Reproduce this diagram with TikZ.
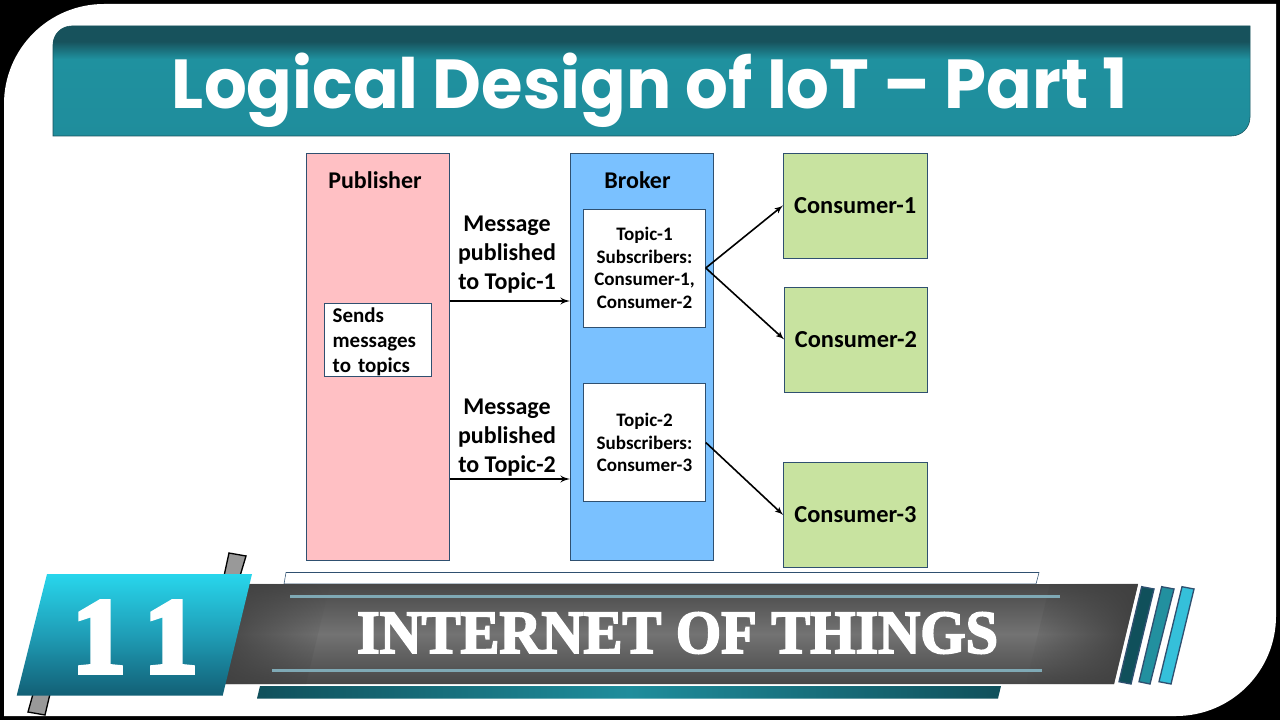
\documentclass[tikz,border=0pt]{standalone}
\usepackage{fontspec}
\setmainfont{Carlito}
\newfontfamily\titlefont{Poppins}
\newfontfamily\bannerfont[BoldFeatures={FakeBold=3}]{Liberation Serif}
\newfontfamily\numberfont[BoldFeatures={FakeBold=5}]{Liberation Serif}
\usepackage{tikz}
\usetikzlibrary{positioning,arrows,calc,fadings}
\definecolor{pubpink}{HTML}{FFC0C4}
\definecolor{brokerblue}{HTML}{7AC1FF}
\definecolor{consgreen}{HTML}{C8E3A0}
\definecolor{edgeblue}{HTML}{2F5070}
\definecolor{barteal}{HTML}{1F8D9C}
\definecolor{barlight}{HTML}{1F919F}
\definecolor{bardark}{HTML}{17525C}
\definecolor{cyantop}{HTML}{28D6EC}
\definecolor{cyanmid}{HTML}{1F9DB6}
\definecolor{cyanlow}{HTML}{125F75}
\definecolor{ruleblue}{HTML}{7FA9B5}
\definecolor{stripelight}{HTML}{35C0DA}
\definecolor{stripemid}{HTML}{22909F}
\definecolor{stripedark}{HTML}{10505B}
\pgfdeclareverticalshading{titlebar}{100bp}{color(0bp)=(barteal); color(25bp)=(barteal);
    color(60bp)=(barlight); color(68bp)=(bardark); color(100bp)=(bardark)}
\tikzset{
    line width=0.75pt,
    >=latex',
    panel/.style = {
        draw=edgeblue,
        shape=rectangle,
        minimum width=107.5pt,
        minimum height=305.25pt
    },
    topic/.style = {
        draw=edgeblue,
        fill=white,
        shape=rectangle,
        align=center,
        minimum width=91.5pt,
        minimum height=88.5pt,
        font=\bfseries\fontsize{14.3}{16.9}\selectfont
    },
    consumer/.style = {
        draw=edgeblue,
        fill=consgreen,
        shape=rectangle,
        minimum width=108pt,
        minimum height=79pt,
        font=\bfseries\fontsize{18.3}{20}\selectfont
    },
    caption/.style = {
        align=center,
        font=\bfseries\fontsize{18}{21.75}\selectfont
    },
    heading/.style = {
        font=\bfseries\fontsize{18}{20}\selectfont
    },
    stripe/.style = {
        draw=edgeblue,
        line width=1pt
    },
    tab/.style = {
        draw=black,
        fill=black!40,
        line width=1pt
    },
    flow/.style = {
        draw,
        ->,
        line width=1.5pt
    },
    link/.style = {
        draw,
        ->,
        line width=1.2pt
    }
}

\begin{document}
\begin{tikzpicture}[x=0.75pt,y=-0.75pt]
            \useasboundingbox (0,0) rectangle (1280,720);
            \path[fill=black] (0,0) rectangle (1280,720);
            \path[fill=white] (4,716) [rounded corners=75pt] -- (4,4) [sharp corners] -- (1276,4) [rounded corners=75pt] -- (1276,716) [sharp corners] -- cycle;

            \path[shading=titlebar, draw=bardark] (53,136) [rounded corners=14pt] -- (53,26) [sharp corners] -- (1250,26) [rounded corners=14pt] -- (1250,136) [sharp corners] -- cycle;
            \node[text=white] (title) at (650,90) {\titlefont\bfseries\fontsize{52}{60}\selectfont\scalebox{0.97}[1]{Logical Design of IoT – Part 1}};

            \node[panel, fill=pubpink] (pub) at (378,356.5) {};
            \node[panel, fill=brokerblue] (broker) at (642,356.5) {};
            \node[heading] (publabel) at (375,180) {Publisher};
            \node[heading] (brokerlabel) at (637.5,180) {Broker};
            \node[draw=edgeblue, fill=white, minimum width=80.25pt, minimum height=54pt, align=left, inner xsep=6pt, inner ysep=0pt, text width=68pt, font=\bfseries\fontsize{15.75}{18.75}\selectfont] (sends) at (378,339.5) {\rule{0pt}{14.5pt}Sends\\messages\\to topics};
            \node[topic] (topicone) at (644.5,268) {Topic-1\\Subscribers:\\Consumer-1,\\Consumer-2};
            \node[topic] (topictwo) at (644.5,442.5) {Topic-2\\Subscribers:\\Consumer-3};
            \node[consumer] (consone) at (855.25,205.5) {Consumer-1};
            \node[consumer, minimum width=107.25pt] (constwo) at (856,339.5) {Consumer-2};
            \node[consumer] (consthree) at (855.5,515) {Consumer-3};
            \node[caption] (msgone) at (507,255) {Message\\published\\to Topic-1};
            \node[caption] (msgtwo) at (507,438) {Message\\published\\to Topic-2};

            \coordinate (lineone) at (0,301);
            \coordinate (linetwo) at (0,479);
            \path[flow] (pub.east |- lineone) -- (broker.west |- lineone);
            \path[flow] (pub.east |- linetwo) -- (broker.west |- linetwo);
            \path[link] (topicone.east) -- (consone.west);
            \path[link] (topicone.east) -- (constwo.west);
            \path[link] (topictwo.east) -- (consthree.west);

            \path[draw=edgeblue, fill=white] (284,584) -- (286,572.5) -- (1039,572.5) -- (1036,584) -- cycle;
            \path[tab] (229,553) -- (246,556) -- (240,576) -- (224,576) -- cycle;
            \path[tab] (33,694) -- (50,694) -- (45,715) -- (28,712) -- cycle;
            \path[top color=black!72, bottom color=black!72, middle color=black!55] (230,584) -- (1138,584) -- (1114,684) -- (206,684) -- cycle;
            \path[fill=black!75, path fading=west] (1050,584) -- (1138,584) -- (1114,684) -- (1026,684) -- cycle;
            \path[fill=black!75, path fading=east] (230,584) -- (330,584) -- (306,684) -- (206,684) -- cycle;
            \path[draw=ruleblue, line width=2.25pt] (290,596) -- (1060,596);
            \path[draw=ruleblue, line width=2.25pt] (272,670.5) -- (1042,670.5);
            \path[left color=stripedark, right color=stripedark, middle color=barteal] (260,686) -- (1001,686) -- (998,698.5) -- (257,698.5) -- cycle;
            \node[text=white] (banner) at (677.5,633) {\bannerfont\bfseries\fontsize{46}{50}\selectfont\scalebox{0.95}[1]{INTERNET OF THINGS}};

            \path[top color=cyantop, bottom color=cyanlow, middle color=cyanmid] (47,574) -- (252,574) -- (222.7,695.7) -- (16.7,695.7) -- cycle;
            \node[text=white] (number) at (135,637) {\numberfont\bfseries\fontsize{80}{80}\selectfont 1\hspace{14pt}1};

            \path[stripe, fill=stripedark] (1141.7,586.7) -- (1154,589) -- (1131,684) -- (1119,681.7) -- cycle;
            \path[stripe, fill=stripemid] (1161.7,586.7) -- (1174,589) -- (1150,684) -- (1139,681.7) -- cycle;
            \path[stripe, fill=stripelight] (1182,586.7) -- (1194,589) -- (1171,684) -- (1159,681.7) -- cycle;
        \end{tikzpicture}
\end{document}
